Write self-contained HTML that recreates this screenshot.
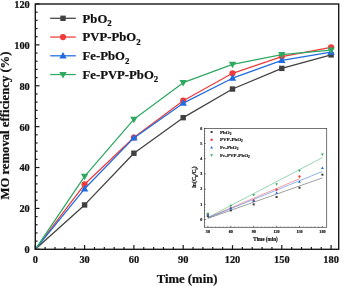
<!DOCTYPE html><html><head><meta charset="utf-8"><title>MO removal efficiency</title>
<style>html,body{margin:0;padding:0;background:#fff}svg{display:block}text{font-family:"Liberation Serif","DejaVu Serif",serif;font-weight:bold;fill:#111;stroke:#111;stroke-width:0.22px}.t text{stroke:#111;stroke-width:0.18px}</style></head><body>
<svg width="350" height="286" viewBox="0 0 350 286">
<rect width="350" height="286" fill="#fff"/>
<polyline points="35.30,249.30 84.60,204.94 133.90,153.22 183.20,117.66 232.50,89.04 281.80,68.39 331.10,54.90" fill="none" stroke="#404040" stroke-width="1.25" stroke-linejoin="round"/>
<rect x="81.90" y="202.24" width="5.40" height="5.40" fill="#404040"/>
<rect x="131.20" y="150.52" width="5.40" height="5.40" fill="#404040"/>
<rect x="180.50" y="114.96" width="5.40" height="5.40" fill="#404040"/>
<rect x="229.80" y="86.34" width="5.40" height="5.40" fill="#404040"/>
<rect x="279.10" y="65.69" width="5.40" height="5.40" fill="#404040"/>
<rect x="328.40" y="52.20" width="5.40" height="5.40" fill="#404040"/>
<polyline points="35.30,249.30 84.60,184.30 133.90,137.48 183.20,100.69 232.50,73.30 281.80,56.54 331.10,47.34" fill="none" stroke="#ee3c3c" stroke-width="1.25" stroke-linejoin="round"/>
<circle cx="84.60" cy="184.30" r="3.10" fill="#ee3c3c"/>
<circle cx="133.90" cy="137.48" r="3.10" fill="#ee3c3c"/>
<circle cx="183.20" cy="100.69" r="3.10" fill="#ee3c3c"/>
<circle cx="232.50" cy="73.30" r="3.10" fill="#ee3c3c"/>
<circle cx="281.80" cy="56.54" r="3.10" fill="#ee3c3c"/>
<circle cx="331.10" cy="47.34" r="3.10" fill="#ee3c3c"/>
<polyline points="35.30,249.30 84.60,188.79 133.90,137.89 183.20,103.14 232.50,78.20 281.80,60.42 331.10,52.04" fill="none" stroke="#216be0" stroke-width="1.25" stroke-linejoin="round"/>
<polygon points="84.60,184.89 88.30,191.39 80.90,191.39" fill="#216be0"/>
<polygon points="133.90,133.99 137.60,140.49 130.20,140.49" fill="#216be0"/>
<polygon points="183.20,99.24 186.90,105.74 179.50,105.74" fill="#216be0"/>
<polygon points="232.50,74.30 236.20,80.80 228.80,80.80" fill="#216be0"/>
<polygon points="281.80,56.52 285.50,63.02 278.10,63.02" fill="#216be0"/>
<polygon points="331.10,48.14 334.80,54.64 327.40,54.64" fill="#216be0"/>
<polyline points="35.30,249.30 84.60,176.32 133.90,119.29 183.20,82.70 232.50,64.30 281.80,54.70 331.10,50.20" fill="none" stroke="#2fa862" stroke-width="1.25" stroke-linejoin="round"/>
<polygon points="84.60,180.22 88.30,173.72 80.90,173.72" fill="#2fa862"/>
<polygon points="133.90,123.19 137.60,116.69 130.20,116.69" fill="#2fa862"/>
<polygon points="183.20,86.60 186.90,80.10 179.50,80.10" fill="#2fa862"/>
<polygon points="232.50,68.20 236.20,61.70 228.80,61.70" fill="#2fa862"/>
<polygon points="281.80,58.60 285.50,52.10 278.10,52.10" fill="#2fa862"/>
<polygon points="331.10,54.10 334.80,47.60 327.40,47.60" fill="#2fa862"/>
<g class="t">
<rect x="204.4" y="128.5" width="122.30" height="98.80" fill="#fff" stroke="#444" stroke-width="0.75"/>
<line x1="204.4" x2="206.0" y1="219.50" y2="219.50" stroke="#333" stroke-width="0.5"/>
<text x="202.20000000000002" y="220.70" font-size="4.1" text-anchor="end">0</text>
<line x1="204.4" x2="206.0" y1="204.30" y2="204.30" stroke="#333" stroke-width="0.5"/>
<text x="202.20000000000002" y="205.50" font-size="4.1" text-anchor="end">1</text>
<line x1="204.4" x2="206.0" y1="189.10" y2="189.10" stroke="#333" stroke-width="0.5"/>
<text x="202.20000000000002" y="190.30" font-size="4.1" text-anchor="end">2</text>
<line x1="204.4" x2="206.0" y1="173.90" y2="173.90" stroke="#333" stroke-width="0.5"/>
<text x="202.20000000000002" y="175.10" font-size="4.1" text-anchor="end">3</text>
<line x1="204.4" x2="206.0" y1="158.70" y2="158.70" stroke="#333" stroke-width="0.5"/>
<text x="202.20000000000002" y="159.90" font-size="4.1" text-anchor="end">4</text>
<line x1="204.4" x2="206.0" y1="143.50" y2="143.50" stroke="#333" stroke-width="0.5"/>
<text x="202.20000000000002" y="144.70" font-size="4.1" text-anchor="end">5</text>
<line x1="204.4" x2="206.0" y1="128.30" y2="128.30" stroke="#333" stroke-width="0.5"/>
<text x="202.20000000000002" y="129.50" font-size="4.1" text-anchor="end">6</text>
<line x1="204.4" x2="205.3" y1="225.58" y2="225.58" stroke="#333" stroke-width="0.35"/>
<line x1="204.4" x2="205.3" y1="222.54" y2="222.54" stroke="#333" stroke-width="0.35"/>
<line x1="204.4" x2="205.3" y1="219.50" y2="219.50" stroke="#333" stroke-width="0.35"/>
<line x1="204.4" x2="205.3" y1="216.46" y2="216.46" stroke="#333" stroke-width="0.35"/>
<line x1="204.4" x2="205.3" y1="213.42" y2="213.42" stroke="#333" stroke-width="0.35"/>
<line x1="204.4" x2="205.3" y1="210.38" y2="210.38" stroke="#333" stroke-width="0.35"/>
<line x1="204.4" x2="205.3" y1="207.34" y2="207.34" stroke="#333" stroke-width="0.35"/>
<line x1="204.4" x2="205.3" y1="204.30" y2="204.30" stroke="#333" stroke-width="0.35"/>
<line x1="204.4" x2="205.3" y1="201.26" y2="201.26" stroke="#333" stroke-width="0.35"/>
<line x1="204.4" x2="205.3" y1="198.22" y2="198.22" stroke="#333" stroke-width="0.35"/>
<line x1="204.4" x2="205.3" y1="195.18" y2="195.18" stroke="#333" stroke-width="0.35"/>
<line x1="204.4" x2="205.3" y1="192.14" y2="192.14" stroke="#333" stroke-width="0.35"/>
<line x1="204.4" x2="205.3" y1="189.10" y2="189.10" stroke="#333" stroke-width="0.35"/>
<line x1="204.4" x2="205.3" y1="186.06" y2="186.06" stroke="#333" stroke-width="0.35"/>
<line x1="204.4" x2="205.3" y1="183.02" y2="183.02" stroke="#333" stroke-width="0.35"/>
<line x1="204.4" x2="205.3" y1="179.98" y2="179.98" stroke="#333" stroke-width="0.35"/>
<line x1="204.4" x2="205.3" y1="176.94" y2="176.94" stroke="#333" stroke-width="0.35"/>
<line x1="204.4" x2="205.3" y1="173.90" y2="173.90" stroke="#333" stroke-width="0.35"/>
<line x1="204.4" x2="205.3" y1="170.86" y2="170.86" stroke="#333" stroke-width="0.35"/>
<line x1="204.4" x2="205.3" y1="167.82" y2="167.82" stroke="#333" stroke-width="0.35"/>
<line x1="204.4" x2="205.3" y1="164.78" y2="164.78" stroke="#333" stroke-width="0.35"/>
<line x1="204.4" x2="205.3" y1="161.74" y2="161.74" stroke="#333" stroke-width="0.35"/>
<line x1="204.4" x2="205.3" y1="158.70" y2="158.70" stroke="#333" stroke-width="0.35"/>
<line x1="204.4" x2="205.3" y1="155.66" y2="155.66" stroke="#333" stroke-width="0.35"/>
<line x1="204.4" x2="205.3" y1="152.62" y2="152.62" stroke="#333" stroke-width="0.35"/>
<line x1="204.4" x2="205.3" y1="149.58" y2="149.58" stroke="#333" stroke-width="0.35"/>
<line x1="204.4" x2="205.3" y1="146.54" y2="146.54" stroke="#333" stroke-width="0.35"/>
<line x1="204.4" x2="205.3" y1="143.50" y2="143.50" stroke="#333" stroke-width="0.35"/>
<line x1="204.4" x2="205.3" y1="140.46" y2="140.46" stroke="#333" stroke-width="0.35"/>
<line x1="204.4" x2="205.3" y1="137.42" y2="137.42" stroke="#333" stroke-width="0.35"/>
<line x1="204.4" x2="205.3" y1="134.38" y2="134.38" stroke="#333" stroke-width="0.35"/>
<line x1="204.4" x2="205.3" y1="131.34" y2="131.34" stroke="#333" stroke-width="0.35"/>
<line x1="207.90" x2="207.90" y1="227.3" y2="226.4" stroke="#333" stroke-width="0.35"/>
<line x1="211.72" x2="211.72" y1="227.3" y2="226.4" stroke="#333" stroke-width="0.35"/>
<line x1="215.53" x2="215.53" y1="227.3" y2="226.4" stroke="#333" stroke-width="0.35"/>
<line x1="219.35" x2="219.35" y1="227.3" y2="226.4" stroke="#333" stroke-width="0.35"/>
<line x1="223.17" x2="223.17" y1="227.3" y2="226.4" stroke="#333" stroke-width="0.35"/>
<line x1="226.98" x2="226.98" y1="227.3" y2="226.4" stroke="#333" stroke-width="0.35"/>
<line x1="230.80" x2="230.80" y1="227.3" y2="226.4" stroke="#333" stroke-width="0.35"/>
<line x1="234.62" x2="234.62" y1="227.3" y2="226.4" stroke="#333" stroke-width="0.35"/>
<line x1="238.43" x2="238.43" y1="227.3" y2="226.4" stroke="#333" stroke-width="0.35"/>
<line x1="242.25" x2="242.25" y1="227.3" y2="226.4" stroke="#333" stroke-width="0.35"/>
<line x1="246.07" x2="246.07" y1="227.3" y2="226.4" stroke="#333" stroke-width="0.35"/>
<line x1="249.88" x2="249.88" y1="227.3" y2="226.4" stroke="#333" stroke-width="0.35"/>
<line x1="253.70" x2="253.70" y1="227.3" y2="226.4" stroke="#333" stroke-width="0.35"/>
<line x1="257.52" x2="257.52" y1="227.3" y2="226.4" stroke="#333" stroke-width="0.35"/>
<line x1="261.33" x2="261.33" y1="227.3" y2="226.4" stroke="#333" stroke-width="0.35"/>
<line x1="265.15" x2="265.15" y1="227.3" y2="226.4" stroke="#333" stroke-width="0.35"/>
<line x1="268.97" x2="268.97" y1="227.3" y2="226.4" stroke="#333" stroke-width="0.35"/>
<line x1="272.78" x2="272.78" y1="227.3" y2="226.4" stroke="#333" stroke-width="0.35"/>
<line x1="276.60" x2="276.60" y1="227.3" y2="226.4" stroke="#333" stroke-width="0.35"/>
<line x1="280.42" x2="280.42" y1="227.3" y2="226.4" stroke="#333" stroke-width="0.35"/>
<line x1="284.23" x2="284.23" y1="227.3" y2="226.4" stroke="#333" stroke-width="0.35"/>
<line x1="288.05" x2="288.05" y1="227.3" y2="226.4" stroke="#333" stroke-width="0.35"/>
<line x1="291.87" x2="291.87" y1="227.3" y2="226.4" stroke="#333" stroke-width="0.35"/>
<line x1="295.68" x2="295.68" y1="227.3" y2="226.4" stroke="#333" stroke-width="0.35"/>
<line x1="299.50" x2="299.50" y1="227.3" y2="226.4" stroke="#333" stroke-width="0.35"/>
<line x1="303.32" x2="303.32" y1="227.3" y2="226.4" stroke="#333" stroke-width="0.35"/>
<line x1="307.13" x2="307.13" y1="227.3" y2="226.4" stroke="#333" stroke-width="0.35"/>
<line x1="310.95" x2="310.95" y1="227.3" y2="226.4" stroke="#333" stroke-width="0.35"/>
<line x1="314.77" x2="314.77" y1="227.3" y2="226.4" stroke="#333" stroke-width="0.35"/>
<line x1="318.58" x2="318.58" y1="227.3" y2="226.4" stroke="#333" stroke-width="0.35"/>
<line x1="322.40" x2="322.40" y1="227.3" y2="226.4" stroke="#333" stroke-width="0.35"/>
<line x1="207.90" x2="207.90" y1="227.3" y2="225.70000000000002" stroke="#333" stroke-width="0.5"/>
<text x="207.90" y="232.70" font-size="4.1" text-anchor="middle">30</text>
<line x1="230.80" x2="230.80" y1="227.3" y2="225.70000000000002" stroke="#333" stroke-width="0.5"/>
<text x="230.80" y="232.70" font-size="4.1" text-anchor="middle">60</text>
<line x1="253.70" x2="253.70" y1="227.3" y2="225.70000000000002" stroke="#333" stroke-width="0.5"/>
<text x="253.70" y="232.70" font-size="4.1" text-anchor="middle">90</text>
<line x1="276.60" x2="276.60" y1="227.3" y2="225.70000000000002" stroke="#333" stroke-width="0.5"/>
<text x="276.60" y="232.70" font-size="4.1" text-anchor="middle">120</text>
<line x1="299.50" x2="299.50" y1="227.3" y2="225.70000000000002" stroke="#333" stroke-width="0.5"/>
<text x="299.50" y="232.70" font-size="4.1" text-anchor="middle">150</text>
<line x1="322.40" x2="322.40" y1="227.3" y2="225.70000000000002" stroke="#333" stroke-width="0.5"/>
<text x="322.40" y="232.70" font-size="4.1" text-anchor="middle">180</text>
<text x="265.55" y="240.8" font-size="5.1" text-anchor="middle">Time (min)</text>
<text transform="translate(196.4,177.0) rotate(-90)" font-size="5.7" text-anchor="middle">ln(C<tspan font-size="3.8" dy="1.2">0</tspan><tspan dy="-1.2">/C</tspan><tspan font-size="3.8" dy="1.2">t</tspan><tspan dy="-1.2">)</tspan></text>
<line x1="207.90" y1="218.44" x2="322.40" y2="177.85" stroke="#404040" stroke-width="0.5"/>
<line x1="207.90" y1="217.68" x2="299.50" y2="178.76" stroke="#ee3c3c" stroke-width="0.5"/>
<line x1="207.90" y1="217.98" x2="322.40" y2="171.47" stroke="#216be0" stroke-width="0.5"/>
<line x1="207.90" y1="217.52" x2="322.40" y2="157.64" stroke="#2fa862" stroke-width="0.5"/>
<rect x="206.87" y="215.13" width="2.05" height="2.05" fill="#404040"/>
<rect x="229.77" y="209.35" width="2.05" height="2.05" fill="#404040"/>
<rect x="252.67" y="203.43" width="2.05" height="2.05" fill="#404040"/>
<rect x="275.57" y="195.98" width="2.05" height="2.05" fill="#404040"/>
<rect x="298.47" y="186.71" width="2.05" height="2.05" fill="#404040"/>
<rect x="321.37" y="173.63" width="2.05" height="2.05" fill="#404040"/>
<circle cx="207.90" cy="214.33" r="1.18" fill="#ee3c3c"/>
<circle cx="230.80" cy="208.10" r="1.18" fill="#ee3c3c"/>
<circle cx="253.70" cy="200.35" r="1.18" fill="#ee3c3c"/>
<circle cx="276.60" cy="189.56" r="1.18" fill="#ee3c3c"/>
<circle cx="299.50" cy="176.48" r="1.18" fill="#ee3c3c"/>
<polygon points="207.90,213.31 209.31,215.78 206.49,215.78" fill="#216be0"/>
<polygon points="230.80,206.77 232.21,209.24 229.39,209.24" fill="#216be0"/>
<polygon points="253.70,199.63 255.11,202.10 252.29,202.10" fill="#216be0"/>
<polygon points="276.60,191.27 278.01,193.74 275.19,193.74" fill="#216be0"/>
<polygon points="299.50,180.17 300.91,182.64 298.09,182.64" fill="#216be0"/>
<polygon points="322.40,166.49 323.81,168.96 320.99,168.96" fill="#216be0"/>
<polygon points="207.90,215.21 209.31,212.74 206.49,212.74" fill="#2fa862"/>
<polygon points="230.80,207.15 232.21,204.68 229.39,204.68" fill="#2fa862"/>
<polygon points="253.70,196.36 255.11,193.89 252.29,193.89" fill="#2fa862"/>
<polygon points="276.60,185.72 278.01,183.25 275.19,183.25" fill="#2fa862"/>
<polygon points="299.50,172.34 300.91,169.87 298.09,169.87" fill="#2fa862"/>
<polygon points="322.40,155.93 323.81,153.46 320.99,153.46" fill="#2fa862"/>
<rect x="210.57" y="130.97" width="2.05" height="2.05" fill="#404040"/>
<text x="220" y="133.60" font-size="5.0">PbO<tspan font-size="3.5" dy="1.1">2</tspan></text>
<circle cx="211.60" cy="139.75" r="1.18" fill="#ee3c3c"/>
<text x="220" y="141.35" font-size="5.0">PVP-PbO<tspan font-size="3.5" dy="1.1">2</tspan></text>
<polygon points="211.60,146.02 213.01,148.49 210.19,148.49" fill="#216be0"/>
<text x="220" y="149.10" font-size="5.0">Fe-PbO<tspan font-size="3.5" dy="1.1">2</tspan></text>
<polygon points="211.60,156.73 213.01,154.26 210.19,154.26" fill="#2fa862"/>
<text x="220" y="156.85" font-size="5.0">Fe-PVP-PbO<tspan font-size="3.5" dy="1.1">2</tspan></text>
</g>
<rect x="35.3" y="4.0" width="303.40" height="245.30" fill="none" stroke="#1a1a1a" stroke-width="1.4"/>
<line x1="35.3" x2="39.5" y1="249.30" y2="249.30" stroke="#1a1a1a" stroke-width="1.2"/>
<line x1="35.3" x2="37.599999999999994" y1="241.12" y2="241.12" stroke="#1a1a1a" stroke-width="1.2"/>
<line x1="35.3" x2="37.599999999999994" y1="232.95" y2="232.95" stroke="#1a1a1a" stroke-width="1.2"/>
<line x1="35.3" x2="37.599999999999994" y1="224.77" y2="224.77" stroke="#1a1a1a" stroke-width="1.2"/>
<line x1="35.3" x2="37.599999999999994" y1="216.59" y2="216.59" stroke="#1a1a1a" stroke-width="1.2"/>
<line x1="35.3" x2="39.5" y1="208.42" y2="208.42" stroke="#1a1a1a" stroke-width="1.2"/>
<line x1="35.3" x2="37.599999999999994" y1="200.24" y2="200.24" stroke="#1a1a1a" stroke-width="1.2"/>
<line x1="35.3" x2="37.599999999999994" y1="192.06" y2="192.06" stroke="#1a1a1a" stroke-width="1.2"/>
<line x1="35.3" x2="37.599999999999994" y1="183.89" y2="183.89" stroke="#1a1a1a" stroke-width="1.2"/>
<line x1="35.3" x2="37.599999999999994" y1="175.71" y2="175.71" stroke="#1a1a1a" stroke-width="1.2"/>
<line x1="35.3" x2="39.5" y1="167.53" y2="167.53" stroke="#1a1a1a" stroke-width="1.2"/>
<line x1="35.3" x2="37.599999999999994" y1="159.36" y2="159.36" stroke="#1a1a1a" stroke-width="1.2"/>
<line x1="35.3" x2="37.599999999999994" y1="151.18" y2="151.18" stroke="#1a1a1a" stroke-width="1.2"/>
<line x1="35.3" x2="37.599999999999994" y1="143.00" y2="143.00" stroke="#1a1a1a" stroke-width="1.2"/>
<line x1="35.3" x2="37.599999999999994" y1="134.83" y2="134.83" stroke="#1a1a1a" stroke-width="1.2"/>
<line x1="35.3" x2="39.5" y1="126.65" y2="126.65" stroke="#1a1a1a" stroke-width="1.2"/>
<line x1="35.3" x2="37.599999999999994" y1="118.47" y2="118.47" stroke="#1a1a1a" stroke-width="1.2"/>
<line x1="35.3" x2="37.599999999999994" y1="110.30" y2="110.30" stroke="#1a1a1a" stroke-width="1.2"/>
<line x1="35.3" x2="37.599999999999994" y1="102.12" y2="102.12" stroke="#1a1a1a" stroke-width="1.2"/>
<line x1="35.3" x2="37.599999999999994" y1="93.94" y2="93.94" stroke="#1a1a1a" stroke-width="1.2"/>
<line x1="35.3" x2="39.5" y1="85.77" y2="85.77" stroke="#1a1a1a" stroke-width="1.2"/>
<line x1="35.3" x2="37.599999999999994" y1="77.59" y2="77.59" stroke="#1a1a1a" stroke-width="1.2"/>
<line x1="35.3" x2="37.599999999999994" y1="69.41" y2="69.41" stroke="#1a1a1a" stroke-width="1.2"/>
<line x1="35.3" x2="37.599999999999994" y1="61.24" y2="61.24" stroke="#1a1a1a" stroke-width="1.2"/>
<line x1="35.3" x2="37.599999999999994" y1="53.06" y2="53.06" stroke="#1a1a1a" stroke-width="1.2"/>
<line x1="35.3" x2="39.5" y1="44.88" y2="44.88" stroke="#1a1a1a" stroke-width="1.2"/>
<line x1="35.3" x2="37.599999999999994" y1="36.71" y2="36.71" stroke="#1a1a1a" stroke-width="1.2"/>
<line x1="35.3" x2="37.599999999999994" y1="28.53" y2="28.53" stroke="#1a1a1a" stroke-width="1.2"/>
<line x1="35.3" x2="37.599999999999994" y1="20.35" y2="20.35" stroke="#1a1a1a" stroke-width="1.2"/>
<line x1="35.3" x2="37.599999999999994" y1="12.18" y2="12.18" stroke="#1a1a1a" stroke-width="1.2"/>
<line x1="35.3" x2="39.5" y1="4.00" y2="4.00" stroke="#1a1a1a" stroke-width="1.2"/>
<text x="29.8" y="253.20" font-size="10.4" text-anchor="end">0</text>
<text x="29.8" y="212.32" font-size="10.4" text-anchor="end">20</text>
<text x="29.8" y="171.43" font-size="10.4" text-anchor="end">40</text>
<text x="29.8" y="130.55" font-size="10.4" text-anchor="end">60</text>
<text x="29.8" y="89.67" font-size="10.4" text-anchor="end">80</text>
<text x="29.8" y="48.78" font-size="10.4" text-anchor="end">100</text>
<text x="29.8" y="7.90" font-size="10.4" text-anchor="end">120</text>
<line x1="35.30" x2="35.30" y1="249.3" y2="245.10000000000002" stroke="#1a1a1a" stroke-width="1.2"/>
<line x1="45.16" x2="45.16" y1="249.3" y2="247.0" stroke="#1a1a1a" stroke-width="1.2"/>
<line x1="55.02" x2="55.02" y1="249.3" y2="247.0" stroke="#1a1a1a" stroke-width="1.2"/>
<line x1="64.88" x2="64.88" y1="249.3" y2="247.0" stroke="#1a1a1a" stroke-width="1.2"/>
<line x1="74.74" x2="74.74" y1="249.3" y2="247.0" stroke="#1a1a1a" stroke-width="1.2"/>
<line x1="84.60" x2="84.60" y1="249.3" y2="245.10000000000002" stroke="#1a1a1a" stroke-width="1.2"/>
<line x1="94.46" x2="94.46" y1="249.3" y2="247.0" stroke="#1a1a1a" stroke-width="1.2"/>
<line x1="104.32" x2="104.32" y1="249.3" y2="247.0" stroke="#1a1a1a" stroke-width="1.2"/>
<line x1="114.18" x2="114.18" y1="249.3" y2="247.0" stroke="#1a1a1a" stroke-width="1.2"/>
<line x1="124.04" x2="124.04" y1="249.3" y2="247.0" stroke="#1a1a1a" stroke-width="1.2"/>
<line x1="133.90" x2="133.90" y1="249.3" y2="245.10000000000002" stroke="#1a1a1a" stroke-width="1.2"/>
<line x1="143.76" x2="143.76" y1="249.3" y2="247.0" stroke="#1a1a1a" stroke-width="1.2"/>
<line x1="153.62" x2="153.62" y1="249.3" y2="247.0" stroke="#1a1a1a" stroke-width="1.2"/>
<line x1="163.48" x2="163.48" y1="249.3" y2="247.0" stroke="#1a1a1a" stroke-width="1.2"/>
<line x1="173.34" x2="173.34" y1="249.3" y2="247.0" stroke="#1a1a1a" stroke-width="1.2"/>
<line x1="183.20" x2="183.20" y1="249.3" y2="245.10000000000002" stroke="#1a1a1a" stroke-width="1.2"/>
<line x1="193.06" x2="193.06" y1="249.3" y2="247.0" stroke="#1a1a1a" stroke-width="1.2"/>
<line x1="202.92" x2="202.92" y1="249.3" y2="247.0" stroke="#1a1a1a" stroke-width="1.2"/>
<line x1="212.78" x2="212.78" y1="249.3" y2="247.0" stroke="#1a1a1a" stroke-width="1.2"/>
<line x1="222.64" x2="222.64" y1="249.3" y2="247.0" stroke="#1a1a1a" stroke-width="1.2"/>
<line x1="232.50" x2="232.50" y1="249.3" y2="245.10000000000002" stroke="#1a1a1a" stroke-width="1.2"/>
<line x1="242.36" x2="242.36" y1="249.3" y2="247.0" stroke="#1a1a1a" stroke-width="1.2"/>
<line x1="252.22" x2="252.22" y1="249.3" y2="247.0" stroke="#1a1a1a" stroke-width="1.2"/>
<line x1="262.08" x2="262.08" y1="249.3" y2="247.0" stroke="#1a1a1a" stroke-width="1.2"/>
<line x1="271.94" x2="271.94" y1="249.3" y2="247.0" stroke="#1a1a1a" stroke-width="1.2"/>
<line x1="281.80" x2="281.80" y1="249.3" y2="245.10000000000002" stroke="#1a1a1a" stroke-width="1.2"/>
<line x1="291.66" x2="291.66" y1="249.3" y2="247.0" stroke="#1a1a1a" stroke-width="1.2"/>
<line x1="301.52" x2="301.52" y1="249.3" y2="247.0" stroke="#1a1a1a" stroke-width="1.2"/>
<line x1="311.38" x2="311.38" y1="249.3" y2="247.0" stroke="#1a1a1a" stroke-width="1.2"/>
<line x1="321.24" x2="321.24" y1="249.3" y2="247.0" stroke="#1a1a1a" stroke-width="1.2"/>
<line x1="331.10" x2="331.10" y1="249.3" y2="245.10000000000002" stroke="#1a1a1a" stroke-width="1.2"/>
<text x="35.30" y="263.1" font-size="10.4" text-anchor="middle">0</text>
<text x="84.60" y="263.1" font-size="10.4" text-anchor="middle">30</text>
<text x="133.90" y="263.1" font-size="10.4" text-anchor="middle">60</text>
<text x="183.20" y="263.1" font-size="10.4" text-anchor="middle">90</text>
<text x="232.50" y="263.1" font-size="10.4" text-anchor="middle">120</text>
<text x="281.80" y="263.1" font-size="10.4" text-anchor="middle">150</text>
<text x="331.10" y="263.1" font-size="10.4" text-anchor="middle">180</text>
<text x="187.1" y="282.6" font-size="12.7" text-anchor="middle">Time (min)</text>
<text transform="translate(9.3,125.5) rotate(-90)" font-size="12.7" text-anchor="middle">MO removal efficiency (%)</text>
<line x1="50.2" x2="75.8" y1="18.30" y2="18.30" stroke="#404040" stroke-width="1.25"/>
<rect x="60.30" y="15.60" width="5.40" height="5.40" fill="#404040"/>
<text x="82.6" y="22.70" font-size="12.7">PbO<tspan font-size="8.8" dy="3.5">2</tspan></text>
<line x1="50.2" x2="75.8" y1="37.05" y2="37.05" stroke="#ee3c3c" stroke-width="1.25"/>
<circle cx="63.00" cy="37.05" r="3.10" fill="#ee3c3c"/>
<text x="82.6" y="41.45" font-size="12.7">PVP-PbO<tspan font-size="8.8" dy="3.5">2</tspan></text>
<line x1="50.2" x2="75.8" y1="55.80" y2="55.80" stroke="#216be0" stroke-width="1.25"/>
<polygon points="63.00,51.90 66.70,58.40 59.30,58.40" fill="#216be0"/>
<text x="82.6" y="60.20" font-size="12.7">Fe-PbO<tspan font-size="8.8" dy="3.5">2</tspan></text>
<line x1="50.2" x2="75.8" y1="74.55" y2="74.55" stroke="#2fa862" stroke-width="1.25"/>
<polygon points="63.00,78.45 66.70,71.95 59.30,71.95" fill="#2fa862"/>
<text x="82.6" y="78.95" font-size="12.7">Fe-PVP-PbO<tspan font-size="8.8" dy="3.5">2</tspan></text>
</svg></body></html>
